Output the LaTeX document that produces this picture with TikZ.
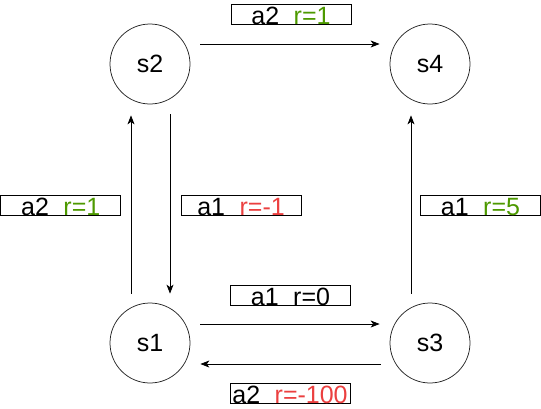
\documentclass[tikz,border=0pt]{standalone}
\usepackage{fontspec}
\setmainfont{Liberation Sans}
\usetikzlibrary{arrows.meta}
\definecolor{rgreen}{HTML}{4D9900}
\definecolor{rred}{RGB}{235,64,64}
\tikzset{
  state/.style={circle, draw=black!85, line width=0.75pt, minimum size=80pt, inner sep=0pt, font=\fontsize{25}{25}\selectfont},
  lab/.style={draw=black, line width=0.9pt, minimum width=120pt, minimum height=20pt, inner sep=0pt, text height=20pt, text depth=0pt, font=\fontsize{25}{25}\selectfont},
  arr/.style={line width=0.8pt, -{Stealth[length=9pt,width=7pt,inset=2.5pt]}}
}
\newcommand{\gp}{\hspace{14.5pt}}
\begin{document}
\begin{tikzpicture}[x=1pt,y=-1pt]
\useasboundingbox (0,0) rectangle (541,408);
\node[state] (s2) at (150,64) {s2};
\node[state] (s4) at (430,64) {s4};
\node[state] (s1) at (150,343) {s1};
\node[state] (s3) at (430,343) {s3};
% connectors
\draw[arr] ([shift={(10,-20)}]s2.east) -- ([shift={(-10,-20)}]s4.west);
\draw[arr] ([shift={(-19,-9)}]s1.north) -- ([shift={(-19,11)}]s2.south);
\draw[arr] ([shift={(20,10)}]s2.south) -- ([shift={(20,-9)}]s1.north);
\draw[arr] ([shift={(-19,-9)}]s3.north) -- ([shift={(-19,11)}]s4.south);
\draw[arr] ([shift={(10,-19)}]s1.east) -- ([shift={(-10,-19)}]s3.west);
\draw[arr] ([shift={(-9,21)}]s3.west) -- ([shift={(10,21)}]s1.east);
% labels
\node[lab] (l24) at (291,14.5) {a2\gp\textcolor{rgreen}{r=1}};
\node[lab] (l12) at (60.7,205) {a2\gp\textcolor{rgreen}{r=1}};
\node[lab] (l21) at (241,205) {a1\gp\textcolor{rred}{r=-1}};
\node[lab] (l34) at (480.5,205) {a1\gp\textcolor{rgreen}{r=5}};
\node[lab] (l13) at (290.5,295) {a1\gp r=0};
\node[lab] (l31) at (290,393.7) {a2\gp\textcolor{rred}{r=-100}};
\end{tikzpicture}
\end{document}
